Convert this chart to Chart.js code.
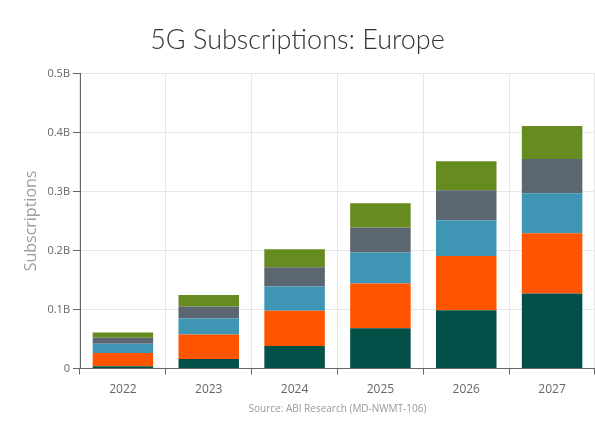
<!DOCTYPE html>
<html>
<head>
<meta charset="utf-8">
<title>5G Subscriptions: Europe</title>
<script src="https://cdn.jsdelivr.net/npm/chart.js@4/dist/chart.umd.min.js"></script>
<style>
  html, body { margin: 0; padding: 0; background: #fff; }
  #wrap { width: 595px; height: 432px; position: relative; }
</style>
</head>
<body>
<div id="wrap"><canvas id="chart"></canvas></div>
<script>
// years on the x axis
const years = ["2022", "2023", "2024", "2025", "2026", "2027"];

// stacked segments, in billions of subscriptions (bottom to top)
const segment1 = [0.004, 0.016, 0.038, 0.068, 0.0985, 0.127];
const segment2 = [0.0224, 0.0414, 0.060, 0.076, 0.092, 0.102];
const segment3 = [0.0156, 0.0275, 0.041, 0.0526, 0.0605, 0.068];
const segment4 = [0.0103, 0.020, 0.0325, 0.0424, 0.051, 0.058];
const segment5 = [0.0086, 0.0197, 0.0305, 0.0408, 0.049, 0.056];

const segmentNames = ["Segment 1", "Segment 2", "Segment 3", "Segment 4", "Segment 5"];
const segmentColors = ["#045049", "#ff5500", "#3e96b4", "#5b6670", "#668b1f"];

// y axis tick values (billions)
const yTicks = [0, 0.1, 0.2, 0.3, 0.4, 0.5];

const fontFamily = "'Open Sans', 'DejaVu Sans', sans-serif";
const titleFamily = "Lato, 'Open Sans', sans-serif";

document.addEventListener("DOMContentLoaded", function () {
  const series = [segment1, segment2, segment3, segment4, segment5];
  const datasets = series.map((values, i) => ({
    label: segmentNames[i],
    data: values,
    backgroundColor: segmentColors[i],
    borderWidth: 0,
    categoryPercentage: 1,
    barPercentage: 0.705,
  }));

  const ctx = document.getElementById("chart").getContext("2d");
  new Chart(ctx, {
    type: "bar",
    data: { labels: years, datasets },
    options: {
      responsive: true,
      maintainAspectRatio: false,
      animation: false,
      layout: { padding: 0 },
      plugins: {
        legend: { display: false },
        tooltip: { enabled: false },
        title: {
          display: true,
          text: "5G Subscriptions: Europe",
          color: "#333333",
          font: { family: titleFamily, size: 27, weight: "300" },
          padding: { top: 24, bottom: 17 },
        },
      },
      scales: {
        x: {
          stacked: true,
          grid: {
            color: "#e6e6e6",
            tickColor: "#666666",
            tickLength: 6,
            offset: true,
          },
          border: { color: "#666666", width: 1 },
          ticks: {
            color: "#666666",
            padding: 8,
            font: { family: fontFamily, size: 12 },
          },
          title: {
            display: true,
            text: "Source: ABI Research (MD-NWMT-106)",
            color: "#999999",
            font: { family: fontFamily, size: 10 },
            padding: { top: 0, bottom: 17 },
          },
          afterFit: function (scale) {
            scale.height = 63.5;
          },
        },
        y: {
          stacked: true,
          min: 0,
          max: 0.5,
          afterBuildTicks: function (scale) {
            scale.ticks = yTicks.map((v) => ({ value: v }));
          },
          grid: {
            color: "#e6e6e6",
            tickColor: "#666666",
            tickLength: 7,
          },
          border: { color: "#666666", width: 1 },
          ticks: {
            color: "#666666",
            padding: 3,
            font: { family: fontFamily, size: 11 },
            callback: function (value) {
              return value === 0 ? "0" : value.toFixed(1) + "B";
            },
          },
          title: {
            display: true,
            text: "Subscriptions",
            color: "#9a9fa6",
            font: { family: fontFamily, size: 16 },
            padding: { top: 22, bottom: 0 },
          },
          afterFit: function (scale) {
            scale.width = 80;
          },
        },
      },
    },
  });
});
</script>
</body>
</html>
